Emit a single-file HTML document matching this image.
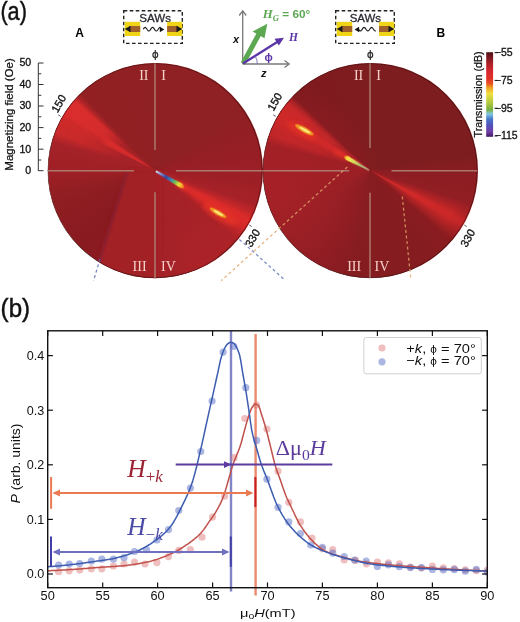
<!DOCTYPE html>
<html><head><meta charset="utf-8"><style>
html,body{margin:0;padding:0;background:#fff;width:520px;height:622px;overflow:hidden}
svg{display:block}
.sans{font-family:"Liberation Sans",Arial,sans-serif}
.serif{font-family:"Liberation Serif","Times New Roman",serif}
.bd{fill:#5a6ec8;fill-opacity:.5}
.rd{fill:#dc7070;fill-opacity:.45}
.circ{position:absolute;width:215px;height:215px;border-radius:50%;overflow:hidden}
.circ div{position:absolute;left:0;top:0;width:215px;height:215px}
#main{position:absolute;left:0;top:0}
</style></head><body>
<div class="circ" style="left:47.5px;top:63.2px"><div style="background:conic-gradient(from 0deg at 50% 50%, #8f2023 0deg, #8f2023 55deg, #971e25 80deg, #9e2026 98deg, #a82228 110deg, #b02428 120deg, #a82228 130deg, #a42228 140deg, #a42228 176deg, #962024 183deg, #8c1c22 190deg, #881a20 225deg, #901e22 255deg, #a02026 272deg, #a42228 285deg, #a42228 293deg, #a02226 302deg, #a42226 309deg, #922023 313deg, #8f2023 360deg)"></div><div style="background:conic-gradient(from 0deg at 50% 50%, rgba(0,0,0,0) 109.0deg, #d42a2a 117.0deg, #d42a2a 123.0deg, rgba(0,0,0,0) 131.0deg);-webkit-mask-image:radial-gradient(circle closest-side at 50% 50%, rgba(0,0,0,0) 0%, rgba(0,0,0,0.25) 15%, rgba(0,0,0,0.8) 45%, rgba(0,0,0,0.95) 80%, rgba(0,0,0,0.85) 100%);mask-image:radial-gradient(circle closest-side at 50% 50%, rgba(0,0,0,0) 0%, rgba(0,0,0,0.25) 15%, rgba(0,0,0,0.8) 45%, rgba(0,0,0,0.95) 80%, rgba(0,0,0,0.85) 100%)"></div><div style="background:conic-gradient(from 0deg at 50% 50%, rgba(0,0,0,0) 114.0deg, #dc2c2a 118.0deg, #dc2c2a 122.0deg, rgba(0,0,0,0) 126.0deg);-webkit-mask-image:radial-gradient(circle closest-side at 50% 50%, rgba(0,0,0,0.2) 0%, rgba(0,0,0,0.6) 10%, rgba(0,0,0,1) 60%, rgba(0,0,0,0.8) 100%);mask-image:radial-gradient(circle closest-side at 50% 50%, rgba(0,0,0,0.2) 0%, rgba(0,0,0,0.6) 10%, rgba(0,0,0,1) 60%, rgba(0,0,0,0.8) 100%)"></div><div style="background:conic-gradient(from 0deg at 50% 50%, rgba(0,0,0,0) 120.0deg, #b02428 136.0deg, #b02428 157.0deg, rgba(0,0,0,0) 173.0deg);-webkit-mask-image:radial-gradient(circle closest-side at 50% 50%, rgba(0,0,0,0) 0%, rgba(0,0,0,0) 40%, rgba(0,0,0,0.5) 80%, rgba(0,0,0,0.6) 100%);mask-image:radial-gradient(circle closest-side at 50% 50%, rgba(0,0,0,0) 0%, rgba(0,0,0,0) 40%, rgba(0,0,0,0.5) 80%, rgba(0,0,0,0.6) 100%)"></div><div style="background:conic-gradient(from 0deg at 50% 50%, rgba(0,0,0,0) 285.0deg, #cc2a2a 291.0deg, #cc2a2a 310.0deg, rgba(0,0,0,0) 316.0deg);-webkit-mask-image:radial-gradient(circle closest-side at 50% 50%, rgba(0,0,0,0) 0%, rgba(0,0,0,0) 30%, rgba(0,0,0,0.5) 50%, rgba(0,0,0,0.9) 75%, rgba(0,0,0,1) 100%);mask-image:radial-gradient(circle closest-side at 50% 50%, rgba(0,0,0,0) 0%, rgba(0,0,0,0) 30%, rgba(0,0,0,0.5) 50%, rgba(0,0,0,0.9) 75%, rgba(0,0,0,1) 100%)"></div><div style="background:conic-gradient(from 0deg at 50% 50%, rgba(0,0,0,0) 299.5deg, #dc2e2e 302.5deg, #dc2e2e 310.0deg, rgba(0,0,0,0) 313.0deg);-webkit-mask-image:radial-gradient(circle closest-side at 50% 50%, rgba(0,0,0,0) 0%, rgba(0,0,0,0) 40%, rgba(0,0,0,0.7) 60%, rgba(0,0,0,0.9) 100%);mask-image:radial-gradient(circle closest-side at 50% 50%, rgba(0,0,0,0) 0%, rgba(0,0,0,0) 40%, rgba(0,0,0,0.7) 60%, rgba(0,0,0,0.9) 100%)"></div><div style="background:conic-gradient(from 0deg at 50% 50%, rgba(0,0,0,0) 295.0deg, #dc2c2c 299.0deg, #dc2c2c 302.0deg, rgba(0,0,0,0) 306.0deg);-webkit-mask-image:radial-gradient(circle closest-side at 50% 50%, rgba(0,0,0,0.3) 0%, rgba(0,0,0,0.9) 15%, rgba(0,0,0,0.9) 50%, rgba(0,0,0,0.3) 60%, rgba(0,0,0,0.2) 100%);mask-image:radial-gradient(circle closest-side at 50% 50%, rgba(0,0,0,0.3) 0%, rgba(0,0,0,0.9) 15%, rgba(0,0,0,0.9) 50%, rgba(0,0,0,0.3) 60%, rgba(0,0,0,0.2) 100%)"></div></div><div class="circ" style="left:262.5px;top:63.2px"><div style="background:conic-gradient(from 0deg at 50% 50%, #7e1d1f 0deg, #7e1d1f 82deg, #8c1d22 92deg, #901e23 106deg, #961e24 120deg, #8a1c20 130deg, #841c20 150deg, #841c20 190deg, #8a1c22 210deg, #901e24 235deg, #981e24 258deg, #9a1e24 275deg, #9a1e24 288deg, #a42226 294deg, #b02428 302deg, #a82428 308deg, #801a1f 313deg, #7e1d1f 360deg)"></div><div style="background:conic-gradient(from 0deg at 50% 50%, rgba(0,0,0,0) 108.0deg, #c82828 116.0deg, #c82828 123.0deg, rgba(0,0,0,0) 131.0deg);-webkit-mask-image:radial-gradient(circle closest-side at 50% 50%, rgba(0,0,0,0.1) 0%, rgba(0,0,0,0.35) 20%, rgba(0,0,0,0.75) 45%, rgba(0,0,0,0.8) 85%, rgba(0,0,0,0.5) 100%);mask-image:radial-gradient(circle closest-side at 50% 50%, rgba(0,0,0,0.1) 0%, rgba(0,0,0,0.35) 20%, rgba(0,0,0,0.75) 45%, rgba(0,0,0,0.8) 85%, rgba(0,0,0,0.5) 100%)"></div><div style="background:conic-gradient(from 0deg at 50% 50%, rgba(0,0,0,0) 115.5deg, #d82a2a 118.5deg, #d82a2a 120.5deg, rgba(0,0,0,0) 123.5deg);-webkit-mask-image:radial-gradient(circle closest-side at 50% 50%, rgba(0,0,0,0.5) 0%, rgba(0,0,0,0.8) 10%, rgba(0,0,0,0.8) 45%, rgba(0,0,0,0.4) 100%);mask-image:radial-gradient(circle closest-side at 50% 50%, rgba(0,0,0,0.5) 0%, rgba(0,0,0,0.8) 10%, rgba(0,0,0,0.8) 45%, rgba(0,0,0,0.4) 100%)"></div><div style="background:conic-gradient(from 0deg at 50% 50%, rgba(0,0,0,0) 284.0deg, #d42a2a 290.0deg, #d42a2a 308.0deg, rgba(0,0,0,0) 314.0deg);-webkit-mask-image:radial-gradient(circle closest-side at 50% 50%, rgba(0,0,0,0) 0%, rgba(0,0,0,0.15) 30%, rgba(0,0,0,0.75) 50%, rgba(0,0,0,1) 80%, rgba(0,0,0,0.9) 100%);mask-image:radial-gradient(circle closest-side at 50% 50%, rgba(0,0,0,0) 0%, rgba(0,0,0,0.15) 30%, rgba(0,0,0,0.75) 50%, rgba(0,0,0,1) 80%, rgba(0,0,0,0.9) 100%)"></div><div style="background:conic-gradient(from 0deg at 50% 50%, rgba(0,0,0,0) 294.0deg, #e02c2a 298.0deg, #e02c2a 302.0deg, rgba(0,0,0,0) 306.0deg);-webkit-mask-image:radial-gradient(circle closest-side at 50% 50%, rgba(0,0,0,0.5) 0%, rgba(0,0,0,0.9) 15%, rgba(0,0,0,0.9) 60%, rgba(0,0,0,0.6) 100%);mask-image:radial-gradient(circle closest-side at 50% 50%, rgba(0,0,0,0.5) 0%, rgba(0,0,0,0.9) 15%, rgba(0,0,0,0.9) 60%, rgba(0,0,0,0.6) 100%)"></div><div style="background:radial-gradient(circle at 5% 60%, rgba(170,34,40,0.8) 0%, rgba(170,34,40,0) 45%)"></div></div>
<svg id="main" width="520" height="622" viewBox="0 0 520 622">
<defs>
<linearGradient id="cbar" x1="0" y1="0" x2="0" y2="1">
<stop offset="0" stop-color="#4a1418"/>
<stop offset="0.06" stop-color="#7a1820"/>
<stop offset="0.14" stop-color="#b02028"/>
<stop offset="0.23" stop-color="#d82830"/>
<stop offset="0.31" stop-color="#e03028"/>
<stop offset="0.37" stop-color="#e85020"/>
<stop offset="0.42" stop-color="#f0a020"/>
<stop offset="0.49" stop-color="#f0e040"/>
<stop offset="0.60" stop-color="#b0c840"/>
<stop offset="0.68" stop-color="#78b040"/>
<stop offset="0.73" stop-color="#80c8e0"/>
<stop offset="0.79" stop-color="#4878c8"/>
<stop offset="0.865" stop-color="#5050b8"/>
<stop offset="0.94" stop-color="#7040a8"/>
<stop offset="1" stop-color="#401860"/>
</linearGradient>
<clipPath id="clipP"><rect x="47.7" y="330.8" width="439.6" height="256.9"/></clipPath>
<clipPath id="clipA"><circle cx="155" cy="170.7" r="107.5"/></clipPath>
<clipPath id="clipB"><circle cx="370" cy="170.7" r="107.5"/></clipPath>
<filter id="b2" x="-50%" y="-50%" width="200%" height="200%"><feGaussianBlur stdDeviation="2"/></filter>
<filter id="b4" x="-50%" y="-50%" width="200%" height="200%"><feGaussianBlur stdDeviation="4"/></filter>
<filter id="b8" x="-50%" y="-50%" width="200%" height="200%"><feGaussianBlur stdDeviation="8"/></filter>
<filter id="b1" x="-50%" y="-50%" width="200%" height="200%"><feGaussianBlur stdDeviation="1"/></filter>
<filter id="b05" x="-50%" y="-50%" width="200%" height="200%"><feGaussianBlur stdDeviation="0.5"/></filter>
<linearGradient id="streakA" x1="0" y1="0" x2="1" y2="0">
<stop offset="0" stop-color="#e0e0f0"/>
<stop offset="0.15" stop-color="#8898d8"/>
<stop offset="0.35" stop-color="#2848b0"/>
<stop offset="0.55" stop-color="#3890b8"/>
<stop offset="0.68" stop-color="#70c050"/>
<stop offset="0.82" stop-color="#f0e030"/>
<stop offset="1" stop-color="#f07020"/>
</linearGradient>
<linearGradient id="streakB" x1="1" y1="0" x2="0" y2="0">
<stop offset="0" stop-color="#f08020"/>
<stop offset="0.12" stop-color="#f8e040"/>
<stop offset="0.4" stop-color="#d8e060"/>
<stop offset="0.7" stop-color="#a0b870"/>
<stop offset="1" stop-color="#c0c0a0"/>
</linearGradient>

</defs>

<!-- ============ PANEL (a) ============ -->
<text x="0.4" y="19.9" class="sans" font-size="25" fill="#111" stroke="#111" stroke-width="0.45" textLength="26.5" lengthAdjust="spacingAndGlyphs">(a)</text>
<text x="75.3" y="37" class="sans" font-size="12" font-weight="bold">A</text>
<text x="436.5" y="37" class="sans" font-size="12" font-weight="bold">B</text>

<!-- SAW box A -->
<g>
<rect x="123.7" y="10.7" width="58.6" height="32.7" fill="none" stroke="#222" stroke-width="1.4" stroke-dasharray="3.6,2.4"/>
<text x="139.3" y="21.8" class="sans" font-size="10.7" textLength="31.8" lengthAdjust="spacingAndGlyphs" fill="#2a2a33" stroke="#2a2a33" stroke-width="0.3">SAWs</text>
<rect x="124.7" y="21.8" width="15.5" height="14.2" fill="#f0d418"/>
<rect x="129" y="26" width="11.2" height="6" fill="#a0602a"/>
<polygon points="124.7,29 130.5,25.8 130.5,32.2" fill="#1a1a1a"/>
<rect x="167.1" y="21.8" width="15.2" height="14.2" fill="#f0d418"/>
<rect x="167.1" y="26" width="11" height="6" fill="#a0602a"/>
<polygon points="182.3,29 176.5,25.8 176.5,32.2" fill="#1a1a1a"/>
<path d="M143.20,29.20 L143.69,28.48 L144.19,27.87 L144.68,27.50 L145.18,27.41 L145.67,27.62 L146.17,28.10 L146.66,28.77 L147.15,29.51 L147.65,30.19 L148.14,30.71 L148.64,30.98 L149.13,30.94 L149.63,30.61 L150.12,30.04 L150.61,29.33 L151.11,28.60 L151.60,27.96 L152.10,27.54 L152.59,27.40 L153.09,27.56 L153.58,28.00 L154.07,28.64 L154.57,29.38 L155.06,30.08 L155.56,30.64 L156.05,30.95 L156.55,30.97 L157.04,30.69 L157.53,30.15 L158.03,29.46 L158.52,28.72 L159.02,28.06 L159.51,27.60 L160.01,27.40 L160.50,27.51" fill="none" stroke="#1a1a1a" stroke-width="1.1"/>
<polygon points="164.3,29.5 159.8,26.8 159.8,32.2" fill="#111"/>
</g>
<!-- SAW box B -->
<g>
<rect x="335.7" y="10.7" width="58.6" height="32.7" fill="none" stroke="#222" stroke-width="1.4" stroke-dasharray="3.6,2.4"/>
<text x="349.7" y="21.8" class="sans" font-size="10.7" textLength="31.4" lengthAdjust="spacingAndGlyphs" fill="#2a2a33" stroke="#2a2a33" stroke-width="0.3">SAWs</text>
<rect x="336.7" y="21.8" width="15.5" height="14.2" fill="#f0d418"/>
<rect x="341" y="26" width="11.2" height="6" fill="#a0602a"/>
<polygon points="336.7,29 342.5,25.8 342.5,32.2" fill="#1a1a1a"/>
<rect x="379.1" y="21.8" width="15.2" height="14.2" fill="#f0d418"/>
<rect x="379.1" y="26" width="11" height="6" fill="#a0602a"/>
<polygon points="394.3,29 388.5,25.8 388.5,32.2" fill="#1a1a1a"/>
<path d="M358.50,29.20 L358.99,29.92 L359.49,30.53 L359.98,30.90 L360.48,30.99 L360.97,30.78 L361.47,30.30 L361.96,29.63 L362.45,28.89 L362.95,28.21 L363.44,27.69 L363.94,27.42 L364.43,27.46 L364.93,27.79 L365.42,28.36 L365.91,29.07 L366.41,29.80 L366.90,30.44 L367.40,30.86 L367.89,31.00 L368.39,30.84 L368.88,30.40 L369.37,29.76 L369.87,29.02 L370.36,28.32 L370.86,27.76 L371.35,27.45 L371.85,27.43 L372.34,27.71 L372.83,28.25 L373.33,28.94 L373.82,29.68 L374.32,30.34 L374.81,30.80 L375.31,31.00 L375.80,30.89" fill="none" stroke="#1a1a1a" stroke-width="1.1"/>
<polygon points="354.6,29.5 359.1,26.8 359.1,32.2" fill="#111"/>
</g>

<!-- phi labels -->
<g fill="none" stroke="#333" stroke-width="1.2"><ellipse cx="155.3" cy="55" rx="2.4" ry="2.6"/><line x1="155.3" y1="50" x2="155.3" y2="60"/><ellipse cx="370.3" cy="55" rx="2.4" ry="2.6"/><line x1="370.3" y1="50" x2="370.3" y2="60"/></g>

<!-- axes diagram -->
<g>
<line x1="242.7" y1="64" x2="242.7" y2="11" stroke="#777" stroke-width="1.3"/>
<polyline points="239.2,15.5 242.7,10.8 246.2,15.5" fill="none" stroke="#777" stroke-width="1.3"/>
<line x1="242.7" y1="64" x2="289" y2="64" stroke="#777" stroke-width="1.3"/>
<polyline points="284.5,60.5 289.2,64 284.5,67.5" fill="none" stroke="#777" stroke-width="1.3"/>
<text x="233" y="43" class="sans" font-size="11" font-weight="bold" font-style="italic" fill="#111">x</text>
<text x="261" y="76.5" class="sans" font-size="11" font-weight="bold" font-style="italic" fill="#111">z</text>
<line x1="243" y1="63.5" x2="259" y2="34" stroke="#5ca852" stroke-width="5"/>
<polygon points="267.3,23.8 252.5,31.5 264.5,38.2" fill="#5ca852"/>
<line x1="243" y1="63.5" x2="278" y2="41.5" stroke="#5b35a8" stroke-width="2.2"/>
<polygon points="284,37.8 274.5,38.8 278.8,45.4" fill="#5b35a8"/>
<path d="M257.3,64 A14.6,14.6 0 0 0 255.3,56.3" fill="none" stroke="#7a6ab0" stroke-width="0.9"/>
<text x="264.5" y="61" class="sans" font-size="11" font-weight="bold" fill="#5b35a8">ϕ</text>
<text x="289" y="41" class="serif" font-size="11.5" font-weight="bold" font-style="italic" fill="#5b35a8">H</text>
<text x="262.8" y="18.3" fill="#5ca852" font-weight="bold" textLength="47.5" lengthAdjust="spacingAndGlyphs"><tspan class="serif" font-style="italic" font-size="12">H</tspan><tspan class="serif" font-style="italic" font-size="8" dy="2.3">G</tspan><tspan class="sans" font-size="11" dy="-2.3"> = 60°</tspan></text>
</g>

<!-- colorbar -->
<rect x="486.2" y="52.2" width="6.9" height="84.6" fill="url(#cbar)"/>
<g stroke="#333" stroke-width="1">
<line x1="494.5" y1="52.7" x2="497.6" y2="52.7"/>
<line x1="494.5" y1="80.4" x2="497.6" y2="80.4"/>
<line x1="494.5" y1="108.2" x2="497.6" y2="108.2"/>
<line x1="494.5" y1="136" x2="497.6" y2="136"/>
</g>
<g class="sans" font-size="10.5" fill="#111" stroke="#111" stroke-width="0.3">
<text x="494.8" y="56.3">−55</text>
<text x="494.8" y="84">−75</text>
<text x="494.8" y="111.7">−95</text>
<text x="494.8" y="139.4">−115</text>
</g>
<text class="sans" font-size="10.2" fill="#111" stroke="#111" stroke-width="0.25" transform="translate(481.6,137.4) rotate(-90)" textLength="86" lengthAdjust="spacingAndGlyphs">Transmission (dB)</text>

<!-- left y axis (Magnetizing field) -->
<g stroke="#333" stroke-width="1">
<line x1="38.3" y1="63" x2="38.3" y2="171"/>
<line x1="38.3" y1="63" x2="43.5" y2="63"/>
<line x1="38.3" y1="84.5" x2="43.5" y2="84.5"/>
<line x1="38.3" y1="106" x2="43.5" y2="106"/>
<line x1="38.3" y1="127.6" x2="43.5" y2="127.6"/>
<line x1="38.3" y1="149.2" x2="43.5" y2="149.2"/>
<line x1="38.3" y1="170.7" x2="43.5" y2="170.7"/>
<line x1="38.3" y1="73.8" x2="41.3" y2="73.8"/>
<line x1="38.3" y1="95.3" x2="41.3" y2="95.3"/>
<line x1="38.3" y1="116.8" x2="41.3" y2="116.8"/>
<line x1="38.3" y1="138.4" x2="41.3" y2="138.4"/>
<line x1="38.3" y1="160" x2="41.3" y2="160"/>
</g>
<g class="sans" font-size="10.6" fill="#111" text-anchor="end" stroke="#111" stroke-width="0.3">
<text x="31.2" y="66.3">50</text>
<text x="31.2" y="87.8">40</text>
<text x="31.2" y="109.3">30</text>
<text x="31.2" y="130.9">20</text>
<text x="31.2" y="152.5">10</text>
<text x="31.2" y="174">0</text>
</g>
<text class="sans" font-size="11.4" fill="#111" stroke="#111" stroke-width="0.25" transform="translate(12.6,170.7) rotate(-90)" textLength="112.5" lengthAdjust="spacingAndGlyphs">Magnetizing field (Oe)</text>

<!-- Circle A -->
<g clip-path="url(#clipA)">
<polygon points="127.5,170.7 160,170.7 160,285 91,285" fill="#a42228" opacity="0.95" filter="url(#b2)"/>
<ellipse cx="220.0" cy="214.0" rx="20" ry="6" transform="rotate(30.0 220.0 214.0)" fill="#e83428" opacity="0.7" filter="url(#b2)"/>
<ellipse cx="218.0" cy="212.8" rx="9.5" ry="2.4" transform="rotate(30.0 218.0 212.8)" fill="#f0a020" opacity="0.95" filter="url(#b05)"/>
<ellipse cx="218.5" cy="213.0" rx="5.5" ry="1.2" transform="rotate(30.0 218.5 213.0)" fill="#f8f080" opacity="0.95" filter="url(#b05)"/>
<ellipse cx="182.0" cy="186.0" rx="7" ry="3" transform="rotate(30.0 182.0 186.0)" fill="#e83428" opacity="0.6" filter="url(#b2)"/>
<g transform="translate(155,170.7) rotate(30)" filter="url(#b05)"><path d="M1,-0.9 L22,-1.9 L30,-2.4 Q35,-0.5 33,1.5 L30,2.3 L22,1.8 L1,0.9 Z" fill="url(#streakA)"/></g>
<line x1="127" y1="172.3" x2="96" y2="272" stroke="#5a2a60" stroke-width="1.2" opacity="0.45" filter="url(#b1)"/>
<circle cx="155" cy="170.7" r="107.2" fill="none" stroke="#4a1010" stroke-width="1.1" opacity="0.75"/>
</g>
<!-- Circle B -->
<g clip-path="url(#clipB)">
<ellipse cx="302.0" cy="131.0" rx="17" ry="5" transform="rotate(30.0 302.0 131.0)" fill="#e43028" opacity="0.8" filter="url(#b2)"/>
<ellipse cx="304.3" cy="129.8" rx="10.5" ry="2.6" transform="rotate(29.0 304.3 129.8)" fill="#f0a020" opacity="0.95" filter="url(#b05)"/>
<ellipse cx="304.8" cy="130.1" rx="6.5" ry="1.4" transform="rotate(29.0 304.8 130.1)" fill="#f8f080" opacity="0.95" filter="url(#b05)"/>
<ellipse cx="340.0" cy="155.0" rx="8" ry="3" transform="rotate(30.0 340.0 155.0)" fill="#e83428" opacity="0.6" filter="url(#b2)"/>
<g transform="translate(370,170.7) rotate(-151)" filter="url(#b05)"><path d="M1,-0.5 L26,-2.2 Q33,0 26,2.2 L1,0.5 Z" fill="url(#streakB)"/></g>
<circle cx="370" cy="170.7" r="107.2" fill="none" stroke="#4a1010" stroke-width="1.1" opacity="0.75"/>
</g>

<!-- crosshair lines -->
<g stroke="#b08276" stroke-width="1.5" opacity="0.9">
<line x1="47.5" y1="170.7" x2="133.8" y2="170.7"/>
<line x1="176" y1="170.7" x2="262.5" y2="170.7"/>
<line x1="155" y1="63.2" x2="155" y2="150"/>
<line x1="155" y1="192.3" x2="155" y2="278.2"/>
<line x1="262.5" y1="170.7" x2="349.2" y2="170.7"/>
<line x1="391.5" y1="170.7" x2="477.5" y2="170.7"/>
<line x1="370" y1="63.2" x2="370" y2="148"/>
<line x1="370" y1="192.7" x2="370" y2="278.2"/>
</g>
<g class="serif" font-size="14" fill="#f6d0c8" text-anchor="middle">
<text x="143.8" y="79.8">II</text><text x="163.7" y="79.8">I</text>
<text x="139.6" y="271">III</text><text x="168.5" y="271">IV</text>
<text x="358.6" y="79.8">II</text><text x="378.5" y="79.8">I</text>
<text x="354.2" y="271">III</text><text x="382" y="271">IV</text>
</g>

<!-- dashed lines -->
<g stroke-width="1.3" stroke-dasharray="3,2.6" opacity="0.8">
<line x1="100" y1="259" x2="93.5" y2="280.8" stroke="#5a68b0"/>
<line x1="239.4" y1="239.4" x2="284.6" y2="279.8" stroke="#6070b8"/>
<line x1="347.3" y1="167" x2="221.2" y2="280.8" stroke="#e0a468"/>
<line x1="402.3" y1="196.5" x2="410.8" y2="279" stroke="#e0a468"/>
</g>
<!-- angle labels -->
<g stroke="#666" stroke-width="1">
<line x1="60.8" y1="116.4" x2="58.2" y2="114.9"/>
<line x1="249.2" y1="225" x2="251.8" y2="226.5"/>
<line x1="275.8" y1="116.4" x2="273.2" y2="114.9"/>
<line x1="464.2" y1="225" x2="466.8" y2="226.5"/>
</g>
<g class="sans" font-size="11" fill="#111" stroke="#111" stroke-width="0.35">
<text transform="translate(58.5,103.5) rotate(-60)" text-anchor="middle" dy="4">150</text>
<text transform="translate(252.4,238) rotate(-60)" text-anchor="middle" dy="4">330</text>
<text transform="translate(274.5,101.7) rotate(-60)" text-anchor="middle" dy="4">150</text>
<text transform="translate(467.5,238) rotate(-60)" text-anchor="middle" dy="4">330</text>
</g>

<!-- ============ PANEL (b) ============ -->
<text x="0.6" y="317.2" class="sans" font-size="25" fill="#111" stroke="#111" stroke-width="0.45" textLength="29.5" lengthAdjust="spacingAndGlyphs">(b)</text>

<!-- vertical marker lines -->
<line x1="231" y1="330.8" x2="231" y2="591.5" stroke="#8484c8" stroke-width="2.4"/>
<line x1="255.6" y1="334" x2="255.6" y2="595.4" stroke="#ec8a6e" stroke-width="2.4"/>

<!-- dots -->
<g clip-path="url(#clipP)"><circle class="rd" cx="58.6" cy="571.7" r="3.6"/><circle class="rd" cx="69.2" cy="570.8" r="3.6"/><circle class="rd" cx="79.7" cy="570.0" r="3.6"/><circle class="rd" cx="91.3" cy="568.8" r="3.6"/><circle class="rd" cx="101.8" cy="568.8" r="3.6"/><circle class="rd" cx="113.4" cy="566.0" r="3.6"/><circle class="rd" cx="124.0" cy="564.0" r="3.6"/><circle class="rd" cx="134.5" cy="562.1" r="3.6"/><circle class="rd" cx="145.0" cy="564.0" r="3.6"/><circle class="rd" cx="156.9" cy="562.6" r="3.6"/><circle class="rd" cx="168.5" cy="556.6" r="3.6"/><circle class="rd" cx="178.8" cy="550.4" r="3.6"/><circle class="rd" cx="190.4" cy="549.7" r="3.6"/><circle class="rd" cx="202.0" cy="537.2" r="3.6"/><circle class="rd" cx="212.6" cy="517.1" r="3.6"/><circle class="rd" cx="224.6" cy="496.2" r="3.6"/><circle class="rd" cx="234.2" cy="457.7" r="3.6"/><circle class="rd" cx="244.8" cy="418.5" r="3.6"/><circle class="rd" cx="256.5" cy="405.1" r="3.6"/><circle class="rd" cx="266.9" cy="429.0" r="3.6"/><circle class="rd" cx="278.0" cy="471.2" r="3.6"/><circle class="rd" cx="288.8" cy="502.3" r="3.6"/><circle class="rd" cx="300.4" cy="521.9" r="3.6"/><circle class="rd" cx="311.9" cy="538.1" r="3.6"/><circle class="rd" cx="322.4" cy="548.7" r="3.6"/><circle class="rd" cx="332.7" cy="549.6" r="3.6"/><circle class="rd" cx="344.2" cy="560.0" r="3.6"/><circle class="rd" cx="355.4" cy="560.4" r="3.6"/><circle class="rd" cx="366.4" cy="563.8" r="3.6"/><circle class="rd" cx="377.4" cy="562.1" r="3.6"/><circle class="rd" cx="388.4" cy="562.9" r="3.6"/><circle class="rd" cx="399.4" cy="563.8" r="3.6"/><circle class="rd" cx="410.4" cy="567.1" r="3.6"/><circle class="rd" cx="421.4" cy="568.0" r="3.6"/><circle class="rd" cx="432.4" cy="566.1" r="3.6"/><circle class="rd" cx="443.3" cy="567.8" r="3.6"/><circle class="rd" cx="454.3" cy="568.5" r="3.6"/><circle class="rd" cx="465.3" cy="569.8" r="3.6"/><circle class="rd" cx="476.3" cy="570.7" r="3.6"/><circle class="rd" cx="487.3" cy="570.2" r="3.6"/><circle class="bd" cx="58.6" cy="565.0" r="3.6"/><circle class="bd" cx="69.2" cy="564.0" r="3.6"/><circle class="bd" cx="79.7" cy="563.5" r="3.6"/><circle class="bd" cx="91.3" cy="561.2" r="3.6"/><circle class="bd" cx="101.8" cy="559.2" r="3.6"/><circle class="bd" cx="113.4" cy="559.2" r="3.6"/><circle class="bd" cx="124.0" cy="557.7" r="3.6"/><circle class="bd" cx="134.5" cy="551.5" r="3.6"/><circle class="bd" cx="146.5" cy="549.7" r="3.6"/><circle class="bd" cx="156.9" cy="540.0" r="3.6"/><circle class="bd" cx="168.5" cy="529.6" r="3.6"/><circle class="bd" cx="178.8" cy="510.5" r="3.6"/><circle class="bd" cx="190.4" cy="488.1" r="3.6"/><circle class="bd" cx="200.8" cy="451.5" r="3.6"/><circle class="bd" cx="212.1" cy="401.0" r="3.6"/><circle class="bd" cx="223.1" cy="352.1" r="3.6"/><circle class="bd" cx="233.8" cy="346.3" r="3.6"/><circle class="bd" cx="245.8" cy="387.7" r="3.6"/><circle class="bd" cx="256.7" cy="440.4" r="3.6"/><circle class="bd" cx="266.9" cy="479.2" r="3.6"/><circle class="bd" cx="278.0" cy="507.4" r="3.6"/><circle class="bd" cx="288.8" cy="521.9" r="3.6"/><circle class="bd" cx="300.4" cy="533.5" r="3.6"/><circle class="bd" cx="310.8" cy="545.0" r="3.6"/><circle class="bd" cx="322.3" cy="547.3" r="3.6"/><circle class="bd" cx="332.7" cy="553.1" r="3.6"/><circle class="bd" cx="344.2" cy="556.5" r="3.6"/><circle class="bd" cx="354.6" cy="560.0" r="3.6"/><circle class="bd" cx="366.2" cy="561.2" r="3.6"/><circle class="bd" cx="377.4" cy="566.4" r="3.6"/><circle class="bd" cx="388.4" cy="564.8" r="3.6"/><circle class="bd" cx="399.4" cy="566.7" r="3.6"/><circle class="bd" cx="410.4" cy="567.6" r="3.6"/><circle class="bd" cx="421.4" cy="567.6" r="3.6"/><circle class="bd" cx="432.4" cy="569.4" r="3.6"/><circle class="bd" cx="443.3" cy="569.8" r="3.6"/><circle class="bd" cx="454.3" cy="569.7" r="3.6"/><circle class="bd" cx="465.3" cy="571.2" r="3.6"/><circle class="bd" cx="476.3" cy="569.4" r="3.6"/><circle class="bd" cx="487.3" cy="572.1" r="3.6"/></g>

<!-- curves -->
<path d="M47.7,570.8 L48.7,570.8 L49.7,570.7 L50.7,570.7 L51.7,570.6 L52.7,570.6 L53.7,570.5 L54.7,570.5 L55.7,570.4 L56.7,570.4 L57.7,570.3 L58.7,570.3 L59.7,570.2 L60.7,570.2 L61.7,570.1 L62.7,570.1 L63.7,570.0 L64.7,569.9 L65.7,569.9 L66.7,569.8 L67.7,569.8 L68.7,569.7 L69.7,569.6 L70.7,569.6 L71.7,569.5 L72.7,569.5 L73.7,569.4 L74.7,569.3 L75.7,569.2 L76.7,569.2 L77.7,569.1 L78.7,569.0 L79.7,568.9 L80.7,568.9 L81.7,568.8 L82.7,568.7 L83.7,568.6 L84.7,568.5 L85.7,568.5 L86.7,568.4 L87.7,568.3 L88.7,568.2 L89.7,568.1 L90.7,568.1 L91.7,568.0 L92.7,567.9 L93.7,567.8 L94.7,567.7 L95.7,567.7 L96.7,567.6 L97.7,567.5 L98.7,567.4 L99.7,567.4 L100.7,567.3 L101.7,567.2 L102.7,567.2 L103.7,567.1 L104.7,567.0 L105.7,567.0 L106.7,566.9 L107.7,566.8 L108.7,566.8 L109.7,566.7 L110.7,566.7 L111.7,566.6 L112.7,566.5 L113.7,566.5 L114.7,566.4 L115.7,566.3 L116.7,566.3 L117.7,566.2 L118.7,566.1 L119.7,566.0 L120.7,566.0 L121.7,565.9 L122.7,565.8 L123.7,565.7 L124.7,565.6 L125.7,565.5 L126.7,565.4 L127.7,565.3 L128.7,565.1 L129.7,565.0 L130.7,564.9 L131.7,564.8 L132.7,564.6 L133.7,564.5 L134.7,564.3 L135.7,564.2 L136.7,564.0 L137.7,563.8 L138.7,563.7 L139.7,563.5 L140.7,563.3 L141.7,563.1 L142.7,562.9 L143.7,562.7 L144.7,562.5 L145.7,562.3 L146.7,562.1 L147.7,561.9 L148.7,561.7 L149.7,561.4 L150.7,561.2 L151.7,560.9 L152.7,560.6 L153.7,560.3 L154.7,560.0 L155.7,559.7 L156.7,559.4 L157.7,559.1 L158.7,558.7 L159.7,558.4 L160.7,558.0 L161.7,557.6 L162.7,557.3 L163.7,556.9 L164.7,556.5 L165.7,556.1 L166.7,555.7 L167.7,555.2 L168.7,554.8 L169.7,554.4 L170.7,553.9 L171.7,553.5 L172.7,553.0 L173.7,552.5 L174.7,552.0 L175.7,551.5 L176.7,551.0 L177.7,550.4 L178.7,549.8 L179.7,549.2 L180.7,548.6 L181.7,548.0 L182.7,547.4 L183.7,546.7 L184.7,546.1 L185.7,545.4 L186.7,544.7 L187.7,544.1 L188.7,543.4 L189.7,542.6 L190.7,541.9 L191.7,541.2 L192.7,540.4 L193.7,539.6 L194.7,538.8 L195.7,537.9 L196.7,537.1 L197.7,536.2 L198.7,535.2 L199.7,534.2 L200.7,533.2 L201.7,532.1 L202.7,530.9 L203.7,529.6 L204.7,528.2 L205.7,526.8 L206.7,525.4 L207.7,523.9 L208.7,522.4 L209.7,520.9 L210.7,519.5 L211.7,518.1 L212.7,516.7 L213.7,515.2 L214.7,513.8 L215.7,512.2 L216.7,510.5 L217.7,508.7 L218.7,506.9 L219.7,504.9 L220.7,502.9 L221.7,500.6 L222.7,498.3 L223.7,495.7 L224.7,492.8 L225.7,489.6 L226.7,486.1 L227.7,482.5 L228.7,479.0 L229.7,475.6 L230.7,472.1 L231.7,468.6 L232.7,465.4 L233.7,462.5 L234.7,460.0 L235.7,457.5 L236.7,455.0 L237.7,452.6 L238.7,450.2 L239.7,447.6 L240.7,444.6 L241.7,441.0 L242.7,437.2 L243.7,433.4 L244.7,429.7 L245.7,425.9 L246.7,422.4 L247.7,419.1 L248.7,415.9 L249.7,413.0 L250.7,410.5 L251.7,408.2 L252.7,406.4 L253.7,405.2 L254.7,404.3 L255.7,404.1 L256.7,404.4 L257.7,404.8 L258.7,405.9 L259.7,408.3 L260.7,411.7 L261.7,415.1 L262.7,418.1 L263.7,421.3 L264.7,424.5 L265.7,427.9 L266.7,431.5 L267.7,435.2 L268.7,439.2 L269.7,443.3 L270.7,447.4 L271.7,451.5 L272.7,455.7 L273.7,459.8 L274.7,463.6 L275.7,466.9 L276.7,469.9 L277.7,472.7 L278.7,475.4 L279.7,478.2 L280.7,481.0 L281.7,483.9 L282.7,486.9 L283.7,489.8 L284.7,492.6 L285.7,495.3 L286.7,497.7 L287.7,499.8 L288.7,501.9 L289.7,503.9 L290.7,505.9 L291.7,508.0 L292.7,510.2 L293.7,512.3 L294.7,514.5 L295.7,516.6 L296.7,518.6 L297.7,520.6 L298.7,522.5 L299.7,524.3 L300.7,525.9 L301.7,527.4 L302.7,528.9 L303.7,530.3 L304.7,531.7 L305.7,533.0 L306.7,534.3 L307.7,535.6 L308.7,536.8 L309.7,537.9 L310.7,539.0 L311.7,540.1 L312.7,541.1 L313.7,542.1 L314.7,543.1 L315.7,544.0 L316.7,544.9 L317.7,545.8 L318.7,546.7 L319.7,547.5 L320.7,548.3 L321.7,549.0 L322.7,549.7 L323.7,550.3 L324.7,550.9 L325.7,551.3 L326.7,551.8 L327.7,552.2 L328.7,552.6 L329.7,553.0 L330.7,553.4 L331.7,553.8 L332.7,554.1 L333.7,554.4 L334.7,554.7 L335.7,555.0 L336.7,555.3 L337.7,555.6 L338.7,555.9 L339.7,556.2 L340.7,556.5 L341.7,556.8 L342.7,557.0 L343.7,557.3 L344.7,557.6 L345.7,557.9 L346.7,558.1 L347.7,558.4 L348.7,558.7 L349.7,558.9 L350.7,559.2 L351.7,559.5 L352.7,559.7 L353.7,559.9 L354.7,560.2 L355.7,560.4 L356.7,560.6 L357.7,560.8 L358.7,561.0 L359.7,561.2 L360.7,561.4 L361.7,561.6 L362.7,561.7 L363.7,561.9 L364.7,562.0 L365.7,562.1 L366.7,562.3 L367.7,562.4 L368.7,562.5 L369.7,562.7 L370.7,562.8 L371.7,562.9 L372.7,563.0 L373.7,563.2 L374.7,563.3 L375.7,563.4 L376.7,563.5 L377.7,563.6 L378.7,563.7 L379.7,563.8 L380.7,564.0 L381.7,564.1 L382.7,564.2 L383.7,564.3 L384.7,564.4 L385.7,564.5 L386.7,564.6 L387.7,564.7 L388.7,564.8 L389.7,564.8 L390.7,564.9 L391.7,565.0 L392.7,565.1 L393.7,565.2 L394.7,565.3 L395.7,565.4 L396.7,565.5 L397.7,565.5 L398.7,565.6 L399.7,565.7 L400.7,565.8 L401.7,565.9 L402.7,566.0 L403.7,566.0 L404.7,566.1 L405.7,566.2 L406.7,566.3 L407.7,566.3 L408.7,566.4 L409.7,566.5 L410.7,566.5 L411.7,566.6 L412.7,566.7 L413.7,566.8 L414.7,566.8 L415.7,566.9 L416.7,567.0 L417.7,567.0 L418.7,567.1 L419.7,567.2 L420.7,567.2 L421.7,567.3 L422.7,567.4 L423.7,567.4 L424.7,567.5 L425.7,567.6 L426.7,567.6 L427.7,567.7 L428.7,567.8 L429.7,567.8 L430.7,567.9 L431.7,568.0 L432.7,568.0 L433.7,568.1 L434.7,568.2 L435.7,568.2 L436.7,568.3 L437.7,568.4 L438.7,568.4 L439.7,568.5 L440.7,568.6 L441.7,568.6 L442.7,568.7 L443.7,568.8 L444.7,568.8 L445.7,568.9 L446.7,568.9 L447.7,569.0 L448.7,569.1 L449.7,569.1 L450.7,569.2 L451.7,569.2 L452.7,569.3 L453.7,569.4 L454.7,569.4 L455.7,569.5 L456.7,569.5 L457.7,569.6 L458.7,569.6 L459.7,569.7 L460.7,569.8 L461.7,569.8 L462.7,569.9 L463.7,569.9 L464.7,570.0 L465.7,570.0 L466.7,570.1 L467.7,570.1 L468.7,570.2 L469.7,570.2 L470.7,570.3 L471.7,570.3 L472.7,570.4 L473.7,570.4 L474.7,570.5 L475.7,570.5 L476.7,570.6 L477.7,570.6 L478.7,570.6 L479.7,570.7 L480.7,570.7 L481.7,570.8 L482.7,570.8 L483.7,570.9 L484.7,570.9 L485.7,570.9 L486.7,571.0 L487.3,571.0" fill="none" stroke="#c0504a" stroke-width="1.5"/>
<path d="M47.7,566.8 L48.7,566.7 L49.7,566.6 L50.7,566.6 L51.7,566.5 L52.7,566.4 L53.7,566.3 L54.7,566.2 L55.7,566.1 L56.7,566.1 L57.7,566.0 L58.7,565.9 L59.7,565.8 L60.7,565.7 L61.7,565.6 L62.7,565.5 L63.7,565.4 L64.7,565.3 L65.7,565.2 L66.7,565.1 L67.7,565.0 L68.7,564.9 L69.7,564.8 L70.7,564.6 L71.7,564.5 L72.7,564.4 L73.7,564.3 L74.7,564.2 L75.7,564.1 L76.7,563.9 L77.7,563.8 L78.7,563.7 L79.7,563.6 L80.7,563.4 L81.7,563.3 L82.7,563.2 L83.7,563.0 L84.7,562.9 L85.7,562.7 L86.7,562.6 L87.7,562.5 L88.7,562.3 L89.7,562.2 L90.7,562.0 L91.7,561.9 L92.7,561.7 L93.7,561.6 L94.7,561.4 L95.7,561.3 L96.7,561.1 L97.7,561.0 L98.7,560.9 L99.7,560.7 L100.7,560.6 L101.7,560.4 L102.7,560.3 L103.7,560.2 L104.7,560.0 L105.7,559.9 L106.7,559.7 L107.7,559.6 L108.7,559.4 L109.7,559.2 L110.7,559.1 L111.7,558.9 L112.7,558.7 L113.7,558.5 L114.7,558.3 L115.7,558.0 L116.7,557.8 L117.7,557.6 L118.7,557.3 L119.7,557.1 L120.7,556.8 L121.7,556.5 L122.7,556.2 L123.7,555.9 L124.7,555.6 L125.7,555.3 L126.7,555.0 L127.7,554.7 L128.7,554.3 L129.7,554.0 L130.7,553.6 L131.7,553.2 L132.7,552.9 L133.7,552.5 L134.7,552.1 L135.7,551.7 L136.7,551.3 L137.7,550.9 L138.7,550.4 L139.7,550.0 L140.7,549.5 L141.7,549.0 L142.7,548.5 L143.7,547.9 L144.7,547.4 L145.7,546.8 L146.7,546.2 L147.7,545.6 L148.7,545.0 L149.7,544.4 L150.7,543.8 L151.7,543.1 L152.7,542.4 L153.7,541.7 L154.7,541.0 L155.7,540.3 L156.7,539.6 L157.7,538.8 L158.7,538.1 L159.7,537.3 L160.7,536.5 L161.7,535.7 L162.7,534.8 L163.7,533.9 L164.7,533.0 L165.7,532.0 L166.7,531.0 L167.7,529.9 L168.7,528.8 L169.7,527.6 L170.7,526.3 L171.7,525.0 L172.7,523.5 L173.7,521.9 L174.7,520.2 L175.7,518.4 L176.7,516.6 L177.7,514.6 L178.7,512.7 L179.7,510.7 L180.7,508.6 L181.7,506.6 L182.7,504.6 L183.7,502.6 L184.7,500.6 L185.7,498.5 L186.7,496.4 L187.7,494.2 L188.7,491.9 L189.7,489.4 L190.7,486.8 L191.7,484.0 L192.7,481.0 L193.7,477.6 L194.7,474.0 L195.7,470.1 L196.7,466.2 L197.7,462.1 L198.7,457.9 L199.7,453.7 L200.7,449.5 L201.7,445.2 L202.7,440.7 L203.7,436.1 L204.7,431.5 L205.7,427.0 L206.7,422.4 L207.7,417.9 L208.7,413.3 L209.7,408.9 L210.7,404.4 L211.7,400.0 L212.7,395.6 L213.7,391.1 L214.7,386.6 L215.7,382.0 L216.7,377.5 L217.7,373.1 L218.7,368.4 L219.7,363.7 L220.7,359.3 L221.7,355.7 L222.7,352.7 L223.7,350.2 L224.7,348.1 L225.7,346.3 L226.7,344.8 L227.7,343.9 L228.7,343.1 L229.7,342.5 L230.7,342.3 L231.7,342.4 L232.7,342.8 L233.7,343.3 L234.7,344.2 L235.7,345.8 L236.7,347.7 L237.7,349.7 L238.7,352.2 L239.7,355.4 L240.7,360.5 L241.7,366.7 L242.7,372.9 L243.7,378.5 L244.7,384.1 L245.7,389.9 L246.7,396.0 L247.7,402.6 L248.7,409.3 L249.7,416.2 L250.7,423.5 L251.7,429.9 L252.7,434.7 L253.7,438.6 L254.7,442.0 L255.7,445.3 L256.7,448.7 L257.7,452.3 L258.7,455.8 L259.7,459.3 L260.7,462.5 L261.7,465.4 L262.7,468.1 L263.7,470.7 L264.7,473.1 L265.7,475.5 L266.7,478.0 L267.7,480.6 L268.7,483.3 L269.7,486.0 L270.7,488.8 L271.7,491.6 L272.7,494.3 L273.7,497.0 L274.7,499.5 L275.7,502.0 L276.7,504.2 L277.7,506.3 L278.7,508.3 L279.7,510.2 L280.7,512.1 L281.7,513.9 L282.7,515.6 L283.7,517.2 L284.7,518.8 L285.7,520.3 L286.7,521.7 L287.7,523.1 L288.7,524.4 L289.7,525.7 L290.7,526.9 L291.7,528.1 L292.7,529.2 L293.7,530.3 L294.7,531.4 L295.7,532.5 L296.7,533.5 L297.7,534.4 L298.7,535.4 L299.7,536.3 L300.7,537.2 L301.7,538.0 L302.7,538.9 L303.7,539.7 L304.7,540.5 L305.7,541.3 L306.7,542.0 L307.7,542.8 L308.7,543.5 L309.7,544.1 L310.7,544.8 L311.7,545.4 L312.7,546.0 L313.7,546.5 L314.7,547.0 L315.7,547.6 L316.7,548.0 L317.7,548.5 L318.7,549.0 L319.7,549.4 L320.7,549.8 L321.7,550.3 L322.7,550.7 L323.7,551.1 L324.7,551.4 L325.7,551.8 L326.7,552.2 L327.7,552.6 L328.7,552.9 L329.7,553.3 L330.7,553.6 L331.7,554.0 L332.7,554.3 L333.7,554.7 L334.7,555.0 L335.7,555.3 L336.7,555.6 L337.7,556.0 L338.7,556.3 L339.7,556.6 L340.7,556.9 L341.7,557.2 L342.7,557.5 L343.7,557.7 L344.7,558.0 L345.7,558.3 L346.7,558.6 L347.7,558.8 L348.7,559.1 L349.7,559.4 L350.7,559.6 L351.7,559.9 L352.7,560.1 L353.7,560.3 L354.7,560.6 L355.7,560.8 L356.7,561.0 L357.7,561.3 L358.7,561.5 L359.7,561.7 L360.7,562.0 L361.7,562.2 L362.7,562.4 L363.7,562.6 L364.7,562.8 L365.7,563.0 L366.7,563.2 L367.7,563.4 L368.7,563.6 L369.7,563.8 L370.7,563.9 L371.7,564.1 L372.7,564.2 L373.7,564.4 L374.7,564.5 L375.7,564.6 L376.7,564.8 L377.7,564.9 L378.7,565.0 L379.7,565.1 L380.7,565.2 L381.7,565.3 L382.7,565.4 L383.7,565.5 L384.7,565.6 L385.7,565.7 L386.7,565.8 L387.7,565.9 L388.7,566.0 L389.7,566.1 L390.7,566.2 L391.7,566.3 L392.7,566.4 L393.7,566.5 L394.7,566.6 L395.7,566.7 L396.7,566.7 L397.7,566.8 L398.7,566.9 L399.7,567.0 L400.7,567.1 L401.7,567.1 L402.7,567.2 L403.7,567.3 L404.7,567.4 L405.7,567.4 L406.7,567.5 L407.7,567.6 L408.7,567.7 L409.7,567.7 L410.7,567.8 L411.7,567.9 L412.7,567.9 L413.7,568.0 L414.7,568.0 L415.7,568.1 L416.7,568.2 L417.7,568.2 L418.7,568.3 L419.7,568.3 L420.7,568.4 L421.7,568.5 L422.7,568.5 L423.7,568.6 L424.7,568.6 L425.7,568.7 L426.7,568.7 L427.7,568.8 L428.7,568.8 L429.7,568.9 L430.7,568.9 L431.7,569.0 L432.7,569.0 L433.7,569.1 L434.7,569.1 L435.7,569.2 L436.7,569.2 L437.7,569.3 L438.7,569.3 L439.7,569.4 L440.7,569.4 L441.7,569.5 L442.7,569.5 L443.7,569.6 L444.7,569.6 L445.7,569.6 L446.7,569.7 L447.7,569.7 L448.7,569.8 L449.7,569.8 L450.7,569.9 L451.7,569.9 L452.7,570.0 L453.7,570.0 L454.7,570.0 L455.7,570.1 L456.7,570.1 L457.7,570.2 L458.7,570.2 L459.7,570.2 L460.7,570.3 L461.7,570.3 L462.7,570.3 L463.7,570.4 L464.7,570.4 L465.7,570.5 L466.7,570.5 L467.7,570.5 L468.7,570.6 L469.7,570.6 L470.7,570.6 L471.7,570.6 L472.7,570.7 L473.7,570.7 L474.7,570.7 L475.7,570.8 L476.7,570.8 L477.7,570.8 L478.7,570.8 L479.7,570.9 L480.7,570.9 L481.7,570.9 L482.7,570.9 L483.7,570.9 L484.7,571.0 L485.7,571.0 L486.7,571.0 L487.3,571.0" fill="none" stroke="#3c5cb0" stroke-width="1.5"/>

<!-- annotations -->
<line x1="51.1" y1="477" x2="51.1" y2="508.8" stroke="#ea7a52" stroke-width="2"/>
<line x1="54" y1="493" x2="250" y2="493" stroke="#ea7a52" stroke-width="2"/>
<polygon points="52.5,493 60,489.5 60,496.5" fill="#ea7a52"/>
<polygon points="253.5,493 246,489.5 246,496.5" fill="#ea7a52"/>
<line x1="255.4" y1="477" x2="255.4" y2="507" stroke="#c82020" stroke-width="2"/>

<line x1="51" y1="536.5" x2="51" y2="566.7" stroke="#4040a8" stroke-width="2"/>
<line x1="54" y1="552" x2="227" y2="552" stroke="#7070c0" stroke-width="2"/>
<polygon points="52.5,552 60,548.5 60,555.5" fill="#7070c0"/>
<polygon points="229.5,552 222,548.5 222,555.5" fill="#7070c0"/>
<line x1="230.8" y1="536.5" x2="230.8" y2="566.7" stroke="#4040a8" stroke-width="2"/>

<line x1="175.7" y1="464.6" x2="332.3" y2="464.6" stroke="#5c3ca0" stroke-width="2"/>
<polygon points="231.5,464.6 224,461.2 224,468" fill="#5c3ca0"/>

<text x="127.3" y="476.8" class="serif" font-size="25.5" font-style="italic" fill="#9c2234">H<tspan font-size="17" dy="5" font-style="normal">+</tspan><tspan font-size="17" font-style="italic">k</tspan></text>
<text x="127.2" y="534.9" class="serif" font-size="25.5" font-style="italic" fill="#4c4ca8">H<tspan font-size="17" dy="5" font-style="normal">−</tspan><tspan font-size="17" font-style="italic">k</tspan></text>
<text x="275.8" y="455" class="serif" font-size="20.5" fill="#5a3a9c" textLength="50" lengthAdjust="spacingAndGlyphs">Δμ<tspan font-size="14.5" dy="4.5">0</tspan><tspan font-style="italic" dy="-4.5">H</tspan></text>

<!-- axes box -->
<rect x="47.7" y="330.8" width="439.6" height="256.9" fill="none" stroke="#111" stroke-width="1.4"/>
<g stroke="#111" stroke-width="1.2">
<line x1="47.7" y1="587.7" x2="47.7" y2="582.5"/>
<line x1="47.7" y1="330.8" x2="47.7" y2="336"/>
<line x1="102.7" y1="587.7" x2="102.7" y2="582.5"/>
<line x1="102.7" y1="330.8" x2="102.7" y2="336"/>
<line x1="157.6" y1="587.7" x2="157.6" y2="582.5"/>
<line x1="157.6" y1="330.8" x2="157.6" y2="336"/>
<line x1="212.6" y1="587.7" x2="212.6" y2="582.5"/>
<line x1="212.6" y1="330.8" x2="212.6" y2="336"/>
<line x1="267.5" y1="587.7" x2="267.5" y2="582.5"/>
<line x1="267.5" y1="330.8" x2="267.5" y2="336"/>
<line x1="322.4" y1="587.7" x2="322.4" y2="582.5"/>
<line x1="322.4" y1="330.8" x2="322.4" y2="336"/>
<line x1="377.4" y1="587.7" x2="377.4" y2="582.5"/>
<line x1="377.4" y1="330.8" x2="377.4" y2="336"/>
<line x1="432.4" y1="587.7" x2="432.4" y2="582.5"/>
<line x1="432.4" y1="330.8" x2="432.4" y2="336"/>
<line x1="487.3" y1="587.7" x2="487.3" y2="582.5"/>
<line x1="487.3" y1="330.8" x2="487.3" y2="336"/>
<line x1="47.7" y1="574.0" x2="52.9" y2="574.0"/>
<line x1="487.3" y1="574.0" x2="482.1" y2="574.0"/>
<line x1="47.7" y1="519.4" x2="52.9" y2="519.4"/>
<line x1="487.3" y1="519.4" x2="482.1" y2="519.4"/>
<line x1="47.7" y1="464.8" x2="52.9" y2="464.8"/>
<line x1="487.3" y1="464.8" x2="482.1" y2="464.8"/>
<line x1="47.7" y1="410.2" x2="52.9" y2="410.2"/>
<line x1="487.3" y1="410.2" x2="482.1" y2="410.2"/>
<line x1="47.7" y1="355.6" x2="52.9" y2="355.6"/>
<line x1="487.3" y1="355.6" x2="482.1" y2="355.6"/>
</g>
<g class="sans" font-size="12" fill="#111" text-anchor="middle">
<text x="47.7" y="600.4" textLength="14.2" lengthAdjust="spacingAndGlyphs">50</text><text x="102.7" y="600.4" textLength="14.2" lengthAdjust="spacingAndGlyphs">55</text><text x="157.6" y="600.4" textLength="14.2" lengthAdjust="spacingAndGlyphs">60</text><text x="212.6" y="600.4" textLength="14.2" lengthAdjust="spacingAndGlyphs">65</text><text x="267.5" y="600.4" textLength="14.2" lengthAdjust="spacingAndGlyphs">70</text><text x="322.4" y="600.4" textLength="14.2" lengthAdjust="spacingAndGlyphs">75</text><text x="377.4" y="600.4" textLength="14.2" lengthAdjust="spacingAndGlyphs">80</text><text x="432.4" y="600.4" textLength="14.2" lengthAdjust="spacingAndGlyphs">85</text><text x="487.3" y="600.4" textLength="14.2" lengthAdjust="spacingAndGlyphs">90</text>
</g>
<g class="sans" font-size="12" fill="#111" text-anchor="end">
<text x="44.3" y="578.3" textLength="17.5" lengthAdjust="spacingAndGlyphs">0.0</text><text x="44.3" y="523.7" textLength="17.5" lengthAdjust="spacingAndGlyphs">0.1</text><text x="44.3" y="469.1" textLength="17.5" lengthAdjust="spacingAndGlyphs">0.2</text><text x="44.3" y="414.5" textLength="17.5" lengthAdjust="spacingAndGlyphs">0.3</text><text x="44.3" y="359.9" textLength="17.5" lengthAdjust="spacingAndGlyphs">0.4</text>
</g>
<text x="240" y="616.5" class="sans" font-size="11.8" fill="#111" textLength="55.5" lengthAdjust="spacingAndGlyphs">μ<tspan font-size="8.5" dy="2">o</tspan><tspan font-style="italic" dy="-2">H</tspan>(mT)</text>
<text class="sans" font-size="12" fill="#111" transform="translate(19.5,503.5) rotate(-90)" textLength="80" lengthAdjust="spacingAndGlyphs"><tspan font-style="italic">P</tspan> (arb. units)</text>

<!-- legend -->
<rect x="363.8" y="337.5" width="117.5" height="36.3" rx="2.5" fill="#fff" fill-opacity="0.85" stroke="#d0d0d0" stroke-width="1"/>
<circle cx="382" cy="348" r="3.6" class="rd"/>
<circle cx="382" cy="361.8" r="3.6" class="bd"/>
<text x="406.3" y="352.7" class="sans" font-size="13" fill="#111" textLength="69.5" lengthAdjust="spacingAndGlyphs">+<tspan font-style="italic">k</tspan>, <tspan font-size="10.5">ϕ</tspan> = 70°</text>
<text x="406.3" y="365" class="sans" font-size="13" fill="#111" textLength="69.5" lengthAdjust="spacingAndGlyphs">−<tspan font-style="italic">k</tspan>, <tspan font-size="10.5">ϕ</tspan> = 70°</text>
</svg>
</body></html>
